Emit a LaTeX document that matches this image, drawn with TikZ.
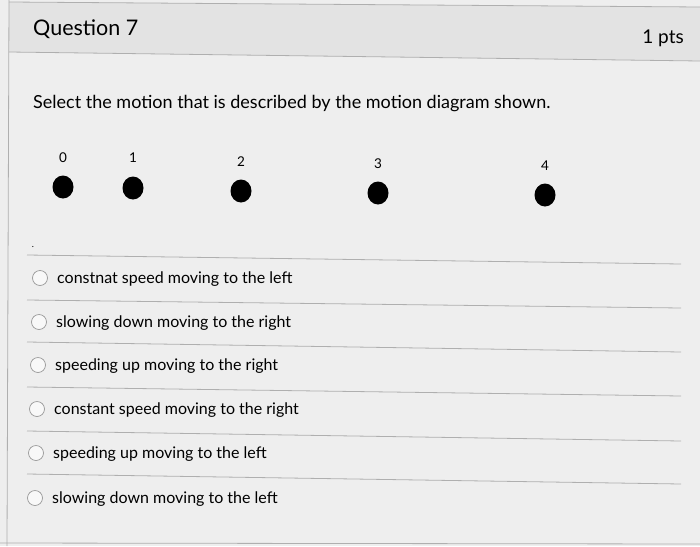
\documentclass[tikz,border=0pt]{standalone}
\usepackage{fontspec}
\setmainfont{Lato}
\definecolor{pagegray}{HTML}{EEEEEE}
\definecolor{headgray}{HTML}{E3E3E3}
\definecolor{rulegray}{HTML}{AFAFAF}
\begin{document}
\begin{tikzpicture}[x=1pt, y=-1pt,
  sep/.style={draw=rulegray, line width=0.8pt},
  radio/.style={draw=gray!80, fill=white!60!pagegray, line width=0.7pt},
  opt/.style={anchor=base west, inner xsep=0pt, font=\fontsize{16}{19}\selectfont},
  num/.style={anchor=base, font=\fontsize{13.5}{16}\selectfont}]

\fill[pagegray] (0,0) rectangle (700,546); %% page
\useasboundingbox (0,0) rectangle (700,546);

%% header band
\fill[headgray] (9,2) -- (700,7) -- (700,61) -- (9,52) -- cycle;
\draw[rulegray, line width=0.8pt] (9,2) -- (700,7);
\draw[rulegray, line width=0.8pt] (9,52) -- (700,61);
\draw[rulegray, line width=0.8pt] (9,0) -- (7,546);
\node[anchor=base west, inner xsep=0pt, font=\fontsize{21.5}{25}\selectfont] (qtitle) at (33,35) {Question 7};
\node[anchor=base east, inner xsep=0pt, font=\fontsize{19}{22}\selectfont] (points) at (684,43) {1 pts};

\node[anchor=base west, inner xsep=0pt, font=\fontsize{18}{21}\selectfont] (prompt) at (33,108)
  {Select the motion that is described by the motion diagram shown.};

%% motion diagram
\foreach \i/\px/\ly/\dy in {0/63/162/187, 1/133/162/188, 2/241/166/191, 3/378/168/193, 4/545/170/195}{
  \node[num] (t\i) at (\px,\ly) {\i};
  \fill (\px,\dy) ellipse [x radius=10.5pt, y radius=11.5pt];
  \coordinate (p\i) at (\px,\dy);
}
\node[anchor=base, font=\small] (stray) at (33,247) {.};

%% answers
\foreach \ya/\yb in {255/264, 300/308, 342/352, 387/396, 431/441, 474/484}{
  \draw[sep] (27,\ya) -- (681,\yb);
}
\draw[rulegray, line width=0.8pt] (0,543) -- (700,544);

\foreach \cx/\tx/\cy/\txt [count=\k] in {
  40/57/278/constnat speed moving to the left,
  39/56/322/slowing down moving to the right,
  38/55/365/speeding up moving to the right,
  37/54/409/constant speed moving to the right,
  36/53/453/speeding up moving to the left,
  35/52/498/slowing down moving to the left}{
  \draw[radio] (\cx,\cy) circle (7.5pt);
  \node[opt] (a\k) at (\tx,\cy+5) {\txt};
}

\end{tikzpicture}
\end{document}
